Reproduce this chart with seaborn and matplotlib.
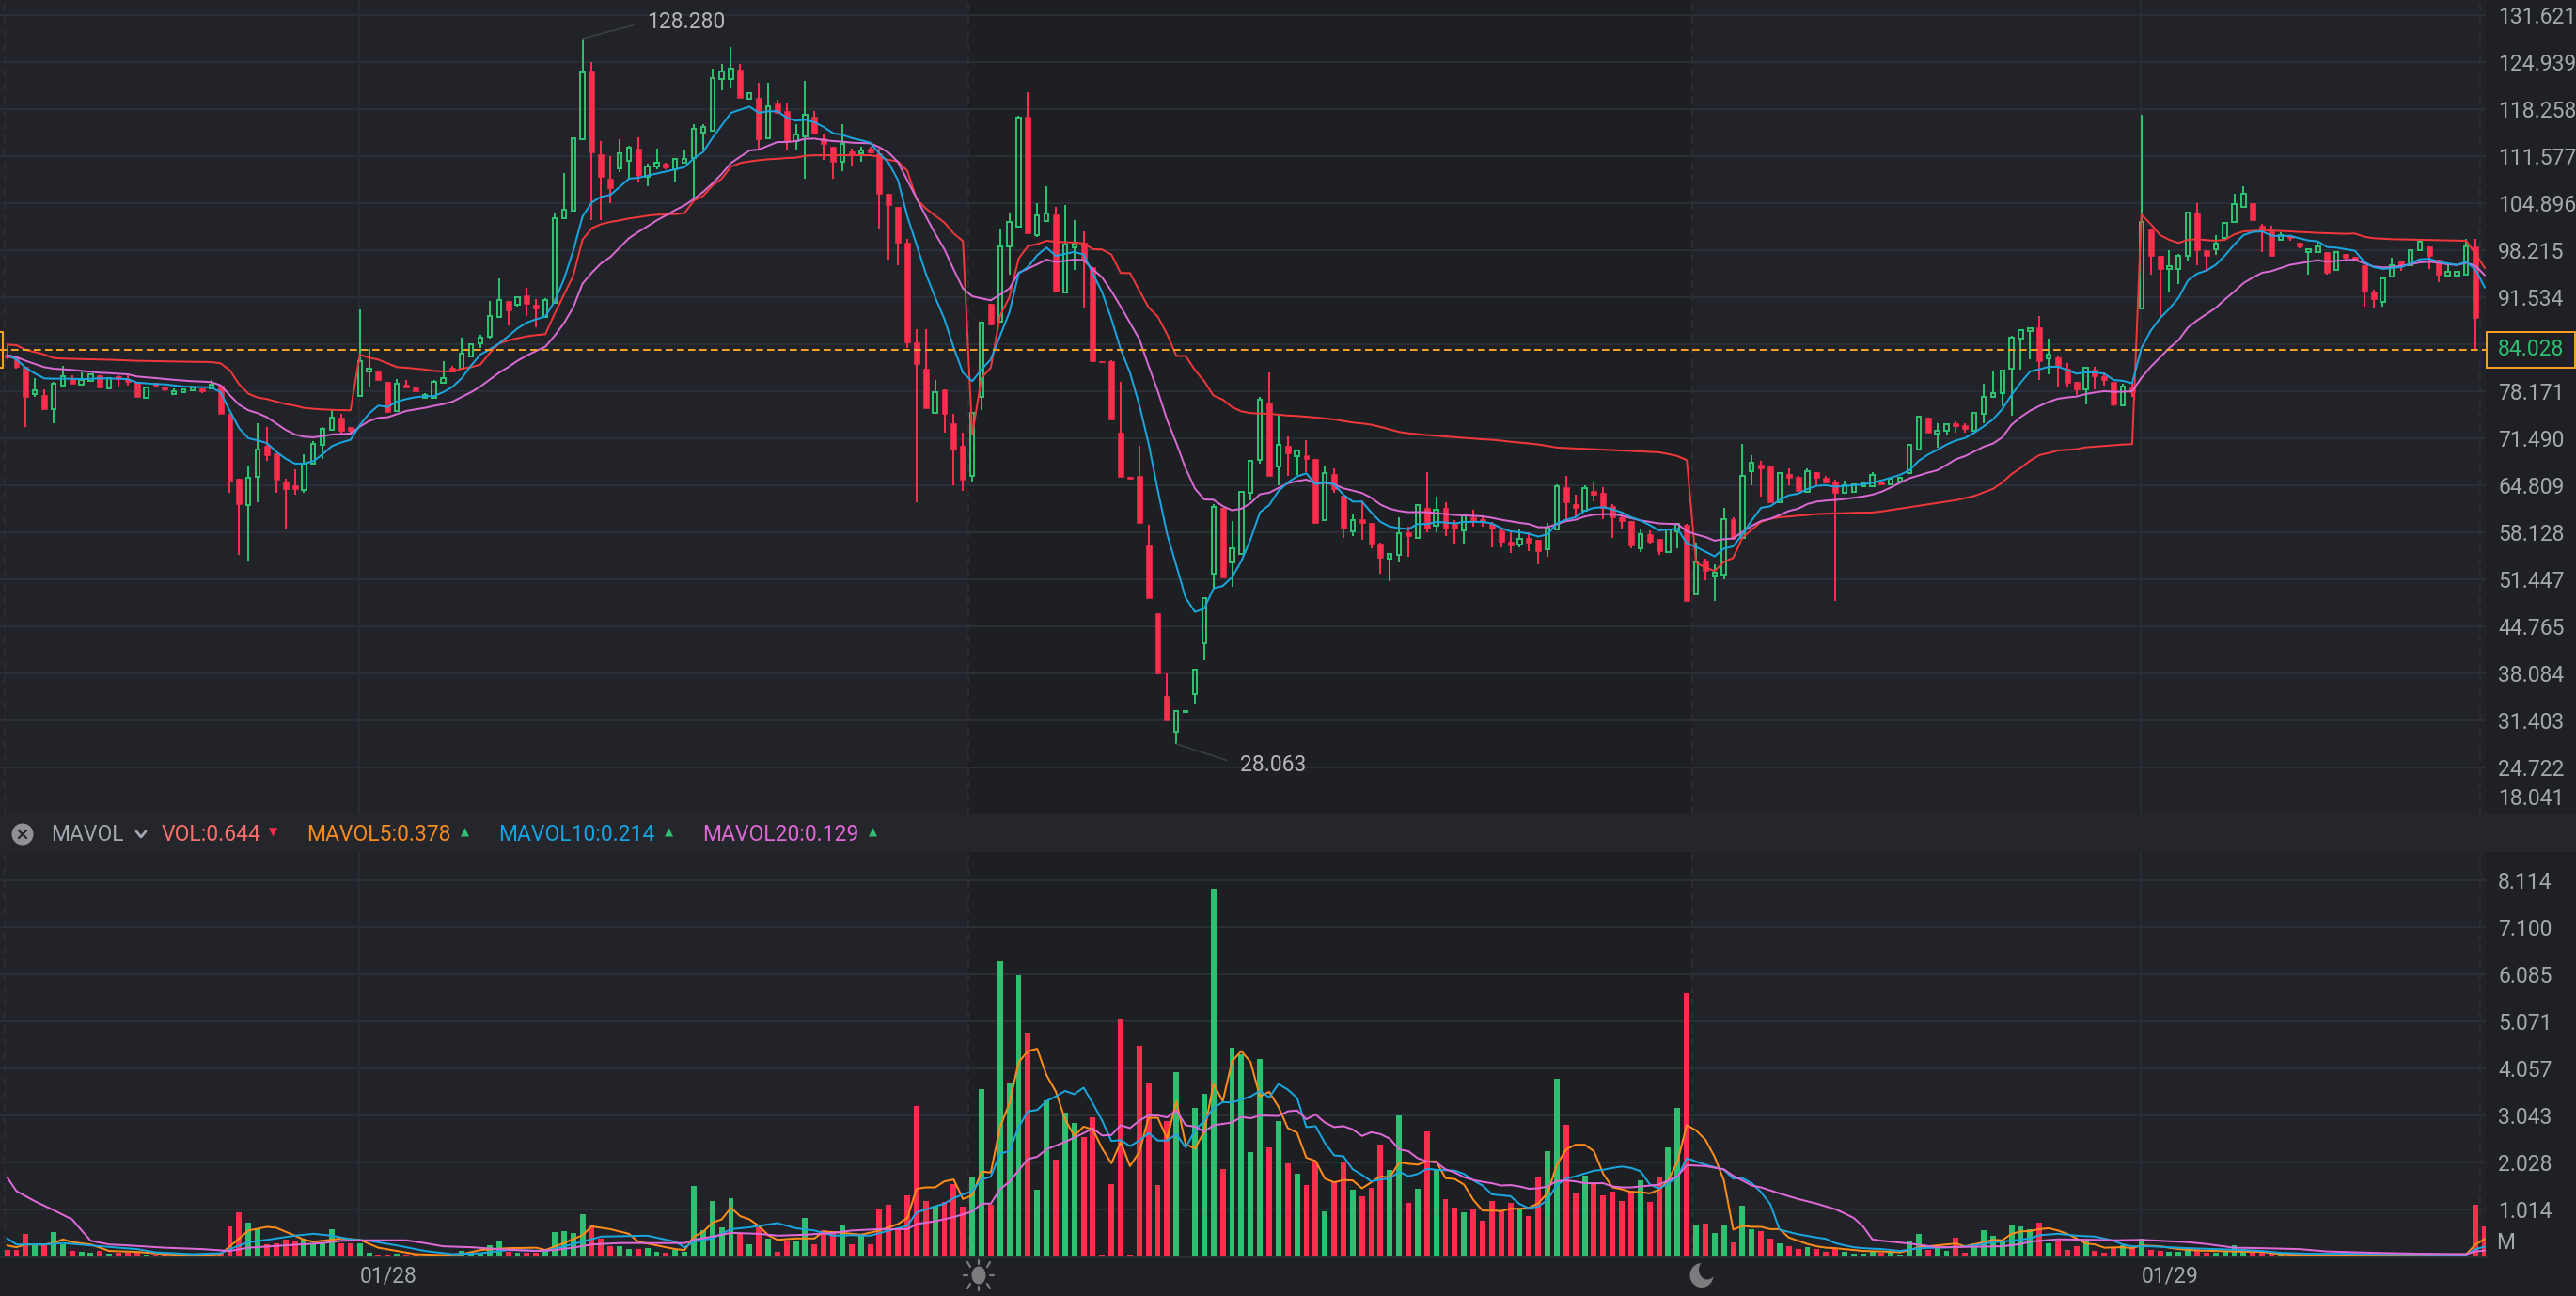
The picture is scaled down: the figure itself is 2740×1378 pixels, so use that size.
#candlestick chart with MA lines on top and MAVOL panel below
import pandas as pd
import matplotlib
matplotlib.use("Agg")
import matplotlib.pyplot as plt
from matplotlib.lines import Line2D
from matplotlib.patches import Ellipse, Rectangle
from matplotlib.transforms import IdentityTransform
import seaborn as sns

#candles, one value per bar
opens = [
    83.39,82.94,81.70,77.73,77.60,75.68,79.02,79.91,79.07,79.60,
    80.50,78.58,80.27,79.96,79.47,77.28,79.38,78.84,77.73,78.04,
    78.35,78.58,78.62,78.93,74.92,65.79,62.00,66.02,70.38,69.31,
    65.30,64.77,64.14,67.89,70.60,72.70,74.39,73.05,77.50,81.03,
    81.03,79.47,75.37,79.15,78.66,77.24,77.24,79.38,81.51,81.38,
    83.10,85.00,85.88,88.69,91.00,90.42,91.76,90.47,88.78,90.69,
    102.72,103.78,113.94,123.60,111.85,108.37,109.84,110.96,112.60,108.68,
    110.15,110.51,109.71,110.69,111.27,114.96,115.19,122.49,122.49,123.87,
    119.77,119.86,114.16,119.06,117.95,113.72,114.38,117.19,114.16,112.92,
    110.73,112.29,111.94,112.60,111.94,106.23,104.36,99.31,85.09,81.37,
    75.07,78.41,73.64,70.44,66.10,77.36,90.58,88.00,98.71,101.60,
    117.19,100.36,102.36,103.25,92.25,98.57,99.24,95.83,82.46,82.46,
    72.30,65.95,66.10,56.22,46.58,34.89,29.83,32.66,35.13,42.38,
    52.26,61.56,53.83,55.12,63.71,68.48,76.60,67.43,70.43,68.96,
    69.05,68.52,59.92,66.42,63.39,58.27,59.97,59.52,56.58,54.40,
    54.93,58.14,57.29,61.61,59.03,61.61,59.30,58.36,60.28,59.97,
    59.30,58.41,56.80,56.36,57.29,57.07,55.69,58.59,64.51,62.15,
    61.17,63.97,63.75,61.84,60.28,59.74,55.91,57.83,57.16,55.38,
    58.27,59.16,49.28,54.13,51.95,52.17,59.97,57.38,66.87,67.72,
    67.49,62.41,66.42,65.98,63.93,66.65,65.93,65.31,63.71,63.93,
    64.73,64.73,65.40,65.00,65.40,66.50,69.85,74.39,72.21,72.52,
    73.63,73.41,72.52,74.97,77.33,77.86,81.34,85.66,86.68,87.22,
    82.90,82.99,81.34,79.51,78.40,81.29,80.31,79.51,76.17,78.67,
    89.89,101.11,97.37,95.55,95.55,97.37,103.56,98.22,98.35,100.00,
    102.23,104.37,104.90,101.69,100.94,99.69,100.22,99.24,97.91,97.91,
    97.91,95.46,97.64,97.24,96.03,92.34,90.91,94.43,96.79,96.12,
    98.22,98.71,96.88,94.65,94.65,94.70,98.71,84.05,
]
closes = [
    82.94,81.60,77.40,78.26,75.68,79.29,80.36,79.24,79.73,80.58,
    78.71,80.04,79.96,79.47,77.37,78.71,78.93,78.40,78.17,78.49,
    78.66,78.22,79.07,74.97,65.35,62.14,65.93,69.94,69.04,65.57,
    64.23,64.23,67.89,70.69,72.87,74.48,72.52,72.52,82.50,81.38,
    79.78,75.28,79.29,78.71,78.17,77.68,79.55,80.04,80.94,83.52,
    84.90,85.75,88.91,91.09,89.67,91.58,90.56,89.93,91.09,102.80,
    103.92,114.07,123.43,112.16,108.68,107.00,111.94,112.74,108.90,110.07,
    110.60,109.93,111.18,111.13,115.41,115.68,122.62,123.65,123.96,119.86,
    120.49,114.03,118.62,117.73,113.72,114.60,117.50,114.83,113.27,110.82,
    113.27,111.71,112.38,112.16,106.28,104.67,99.33,85.09,81.99,75.78,
    78.03,75.02,69.91,65.67,75.07,87.86,87.71,98.80,102.27,117.06,
    100.67,103.12,103.38,92.34,99.02,99.11,96.88,82.46,82.30,74.21,
    65.95,65.80,59.51,48.82,38.13,31.45,32.74,32.80,38.66,48.82,
    61.71,51.78,55.84,63.85,68.29,76.98,66.14,70.53,69.41,69.72,
    68.60,59.52,66.51,64.28,58.63,59.83,59.48,56.58,54.49,55.07,
    57.96,57.60,62.06,58.72,61.39,58.72,58.72,60.50,59.74,59.61,
    58.72,56.80,56.27,57.16,56.71,55.47,58.72,64.64,62.41,61.61,
    64.37,63.53,61.61,60.28,59.74,56.27,57.92,56.85,55.51,58.59,
    59.39,48.34,54.04,52.71,52.35,60.05,57.25,66.16,68.07,67.27,
    62.41,66.51,65.93,64.06,66.82,65.93,65.27,63.75,64.87,64.95,
    65.18,66.29,65.00,65.80,65.90,70.50,74.52,72.30,72.61,73.54,
    73.19,72.83,75.06,77.42,77.95,81.12,85.79,86.86,87.13,82.45,
    83.34,81.78,79.33,78.49,81.52,80.31,79.78,76.31,78.84,78.09,
    102.27,97.46,95.59,95.90,97.46,103.61,98.26,97.46,99.11,102.05,
    104.72,106.28,102.54,101.16,97.46,100.36,99.91,98.80,98.35,98.80,
    95.01,98.00,97.15,96.93,92.34,91.31,94.25,96.12,95.90,98.26,
    99.38,97.46,94.79,95.10,95.10,98.80,88.64,84.03,
]
highs = [
    84.72,82.94,81.70,80.04,78.40,79.47,81.83,80.50,80.80,80.70,
    80.50,80.04,80.50,80.50,79.47,78.71,79.38,78.84,78.58,78.62,
    78.84,78.58,79.73,78.93,74.92,65.79,67.44,73.59,73.05,69.31,
    65.79,67.13,69.27,71.13,73.05,75.46,74.92,73.14,89.84,84.19,
    81.03,79.47,79.96,79.73,78.66,77.95,79.73,82.41,81.83,85.84,
    84.90,86.15,91.00,94.21,91.00,91.67,92.87,91.22,91.45,103.47,
    109.17,114.25,128.28,124.94,113.72,111.58,113.94,113.05,114.25,110.51,
    112.60,110.69,111.27,112.38,116.17,116.08,123.96,124.63,127.08,124.63,
    120.49,121.96,121.96,119.60,119.15,116.17,122.27,117.95,114.70,112.92,
    116.08,112.60,112.92,112.92,112.60,106.23,104.36,99.82,87.00,87.00,
    79.75,78.41,74.97,72.30,75.07,87.86,90.58,101.10,103.47,117.30,
    120.62,104.90,107.26,104.36,104.59,102.50,100.89,95.83,82.46,82.60,
    79.50,65.95,70.39,59.20,46.58,38.08,32.74,32.80,38.66,48.82,
    62.09,61.56,59.70,63.95,68.29,77.36,80.80,74.83,71.77,69.85,
    71.19,68.52,67.49,67.18,63.39,60.81,62.73,59.52,56.71,55.15,
    60.28,58.94,62.20,66.65,63.17,62.37,59.83,60.81,61.30,60.50,
    59.61,58.72,58.18,58.63,58.18,57.07,59.48,64.90,66.16,63.48,
    64.82,65.31,64.55,62.15,60.72,59.74,58.63,58.41,57.25,58.59,
    59.48,59.39,56.71,54.35,53.60,61.61,60.28,70.65,69.05,68.30,
    67.49,66.51,67.18,66.16,67.18,66.65,66.16,65.62,65.53,65.00,
    65.31,66.65,65.40,65.80,65.90,70.60,74.52,74.39,73.63,73.68,
    73.86,73.63,75.06,79.20,81.12,81.12,86.00,87.00,87.30,88.87,
    85.66,83.21,82.18,79.51,81.70,81.65,80.85,79.51,79.20,79.20,
    117.42,101.11,97.37,98.22,97.64,103.61,104.90,98.22,100.36,102.05,
    106.24,107.26,104.90,101.92,101.69,100.71,100.22,99.24,98.50,99.24,
    97.91,98.00,97.64,97.24,96.03,92.56,94.25,97.15,96.79,98.26,
    99.69,98.71,96.88,96.21,95.10,99.78,99.82,84.05,
]
lows = [
    82.72,81.40,73.05,77.37,75.46,73.59,78.71,79.24,78.93,79.47,
    78.71,78.58,78.71,78.93,77.37,77.28,78.71,78.13,77.60,77.90,
    78.17,77.90,78.49,74.97,63.74,54.88,54.12,62.36,68.24,63.70,
    58.62,63.43,63.70,67.89,68.55,72.70,72.07,72.07,77.50,78.71,
    79.78,75.28,75.37,78.71,78.17,77.06,77.15,79.38,80.94,81.38,
    83.10,84.28,85.66,88.69,87.57,90.24,88.91,87.30,88.69,90.69,
    102.72,103.78,113.94,102.50,102.50,104.90,109.26,108.37,107.84,107.35,
    109.71,109.71,107.84,110.60,105.70,112.38,115.19,120.98,121.20,119.86,
    119.77,112.60,114.16,117.73,112.38,112.38,108.37,114.83,111.04,108.37,
    109.49,110.29,110.82,111.94,101.25,96.92,96.12,84.37,62.42,75.78,
    75.07,72.30,64.81,64.00,65.38,75.55,87.57,88.00,94.79,101.60,
    100.67,100.13,102.36,92.34,92.25,95.37,89.98,82.46,82.30,74.21,
    65.95,65.80,59.51,48.82,38.13,31.45,28.063,32.66,33.65,40.00,
    50.25,51.78,50.40,55.12,62.66,67.82,66.14,64.81,66.16,66.29,
    66.74,59.52,59.92,63.75,57.38,57.60,57.07,55.82,52.26,51.24,
    53.91,54.71,57.29,58.18,58.18,57.60,56.58,56.58,58.94,58.94,
    56.05,56.05,55.24,56.05,55.51,53.60,54.71,58.59,59.92,60.28,
    61.17,62.50,60.05,57.38,58.72,55.91,55.29,56.49,54.93,55.24,
    55.82,48.34,49.28,51.28,48.34,51.50,57.25,57.38,64.87,63.26,
    62.41,62.41,64.87,64.06,63.93,64.73,65.04,48.34,63.71,63.70,
    64.60,64.50,65.00,65.00,65.40,66.50,69.85,72.30,70.16,71.85,
    72.30,72.30,72.52,73.63,77.33,76.08,74.75,81.23,82.76,79.78,
    80.63,78.75,78.75,77.64,76.31,78.44,78.98,76.08,76.08,77.42,
    89.89,94.79,88.91,92.34,93.45,96.66,96.13,95.46,97.60,100.00,
    102.23,104.37,102.54,98.00,97.46,99.60,99.60,98.49,94.79,97.91,
    94.79,95.46,96.79,96.93,90.24,89.98,90.24,94.43,95.32,96.12,
    98.22,95.59,93.67,94.65,94.65,94.70,83.88,84.03,
]
volumes = [
    .135,.135,.49,.24,.24,.53,.27,.12,.11,.09,
    .12,.07,.09,.09,.09,.05,.04,.04,.03,.03,
    .03,.03,.05,.07,.64,.96,.72,.59,.26,.29,
    .37,.32,.39,.29,.30,.58,.29,.28,.29,.09,
    .05,.05,.07,.05,.04,.03,.03,.03,.03,.12,
    .07,.09,.24,.34,.11,.09,.09,.09,.12,.52,
    .55,.51,.91,.68,.38,.22,.22,.17,.16,.19,
    .11,.09,.14,.11,1.53,.56,1.20,.63,1.26,.51,
    .27,.63,.38,.11,.34,.35,.84,.27,.56,.54,
    .68,.27,.45,.27,1.01,1.12,.56,1.32,3.24,1.20,
    1.10,1.17,1.56,1.07,1.72,3.60,1.12,6.36,3.75,6.07,
    4.82,1.44,3.37,2.08,3.10,2.88,2.57,3.01,.04,1.56,
    5.14,.04,4.54,3.74,1.55,2.92,3.98,0,3.21,3.50,
    7.93,1.89,4.50,4.35,2.25,4.25,2.35,2.92,2.01,1.78,
    1.54,2.03,.98,1.61,2.03,1.43,1.30,1.49,2.41,1.86,
    3.04,1.15,1.46,2.70,1.86,1.24,1.05,.95,1.01,.78,
    1.20,.99,1.16,1.02,.87,1.70,2.28,3.83,2.83,1.35,
    1.74,1.58,1.32,1.40,1.19,1.41,1.64,1.18,1.72,2.35,
    3.20,5.68,.68,.71,.51,.68,.30,1.10,.59,.55,
    .39,.28,.22,.17,.21,.17,.11,.19,.10,.07,
    .07,.10,.09,.09,.04,.35,.49,.14,.20,.12,
    .40,.08,.29,.56,.44,.32,.66,.65,.58,.73,
    .28,.34,.14,.22,.36,.12,.09,.18,.24,.19,
    .38,.14,.12,.11,.10,.19,.16,.08,.08,.12,
    .24,.16,.10,.11,.11,.04,.04,.05,.03,.03,
    .03,.02,.03,.02,.03,.02,.03,.02,.02,.02,
    .03,.03,.03,.03,.03,.03,1.12,.65,
]

#moving averages on the price panel
ma_blue = [
    83.3,82.7,81.5,80.7,80.0,79.96,79.95,79.95,79.9,79.95,
    80.0,80.0,79.95,79.9,79.4,79.3,79.2,79.15,79.0,78.84,
    78.8,78.75,78.71,78.04,75.37,72.92,71.49,71.2,70.8,69.58,
    68.6,67.89,67.89,68.24,69.22,70.38,70.9,71.27,73.36,75.01,
    76.13,75.95,76.7,77.06,77.33,77.45,77.5,78.04,78.8,80.04,
    81.83,83.39,84.1,84.95,86.0,87.1,87.93,88.4,88.8,90.96,
    94.1,98.1,103.0,105.0,105.8,106.06,107.2,108.37,108.5,108.8,
    109.1,109.4,109.7,110.02,111.27,112.16,114.16,115.94,117.73,118.17,
    118.62,117.73,117.95,117.95,117.06,116.61,116.75,116.39,115.72,114.83,
    114.6,114.16,113.85,113.49,111.94,110.6,108.15,103.03,99.0,94.87,
    91.53,88.43,84.37,80.8,79.6,81.27,82.7,86.04,89.38,94.87,
    95.83,97.5,98.6,97.4,97.7,97.97,97.6,94.87,92.25,88.43,
    84.13,80.8,76.26,70.77,64.09,57.89,53.36,48.82,46.82,47.29,
    50.16,50.5,51.75,54.03,57.16,60.97,62.0,64.0,65.2,66.07,
    66.51,64.95,65.27,64.95,63.48,62.5,62.5,60.95,59.61,58.94,
    58.72,58.58,59.3,59.3,59.61,59.52,59.39,59.61,59.61,59.61,
    59.39,58.72,58.27,58.14,57.92,57.52,57.83,59.39,59.92,60.28,
    61.17,61.61,61.7,61.39,60.95,60.28,59.83,59.16,58.41,58.5,
    58.63,56.58,56.05,55.38,54.71,55.82,56.13,57.83,59.83,61.61,
    61.84,62.73,63.39,63.62,64.28,64.73,64.82,64.6,64.73,64.82,
    64.95,65.18,65.5,65.9,66.3,66.95,68.29,69.18,69.85,70.6,
    71.18,71.54,72.3,73.19,74.17,75.64,77.64,79.42,80.98,81.29,
    81.65,81.65,81.2,80.67,80.85,80.85,80.67,79.78,79.65,79.33,
    84.32,86.77,88.55,89.89,91.45,93.9,94.88,95.32,96.13,97.46,
    99.02,100.36,100.8,100.89,100.27,100.22,100.27,99.91,99.6,99.47,
    98.66,98.58,98.35,98.13,96.57,95.81,95.55,95.68,95.81,96.35,
    96.92,97.0,96.57,96.35,96.12,96.57,95.46,92.9,
]
ma_pink = [
    83.3,83.03,82.5,82.05,81.6,81.38,81.29,81.2,81.07,80.94,
    80.8,80.75,80.65,80.58,80.27,80.15,80.05,79.91,79.8,79.69,
    79.6,79.55,79.47,79.02,77.6,76.26,75.46,75.06,74.48,73.59,
    72.7,72.03,71.72,71.63,71.8,72.03,72.1,72.16,73.14,73.94,
    74.39,74.48,74.92,75.37,75.6,75.81,76.1,76.35,76.7,77.37,
    78.04,78.84,79.82,80.8,81.6,82.5,83.25,83.9,84.5,86.06,
    87.84,90.07,93.45,95.01,96.35,97.24,98.57,99.91,100.8,101.6,
    102.45,103.16,103.92,104.59,105.48,106.5,107.7,109.04,110.6,111.49,
    112.38,112.51,113.05,113.58,113.58,113.72,114.03,114.07,113.85,113.72,
    113.63,113.49,113.45,113.4,112.83,112.07,110.73,108.15,105.61,103.03,
    100.58,98.35,95.46,92.78,91.67,91.36,91.09,91.89,92.78,95.01,
    95.59,96.21,96.88,96.53,96.7,96.88,96.8,95.5,94.35,92.4,
    90.2,87.9,85.6,81.8,78.17,74.11,70.77,67.2,64.33,62.8,
    62.76,61.84,61.26,61.48,62.28,63.53,63.75,64.42,65.09,65.4,
    65.62,65.09,65.18,64.95,64.37,64.06,63.71,63.04,62.06,61.48,
    61.17,60.99,61.0,60.99,60.85,60.72,60.6,60.54,60.48,60.41,
    60.19,59.92,59.7,59.48,59.3,58.85,58.85,59.3,59.7,59.92,
    60.37,60.63,60.7,60.72,60.5,60.14,59.83,59.61,59.39,59.35,
    59.3,58.27,57.83,57.47,56.94,57.16,57.25,58.18,59.03,59.74,
    60.05,60.59,61.17,61.48,62.15,62.5,62.64,62.73,62.86,63.04,
    63.22,63.48,63.9,64.5,65.2,65.8,66.2,66.6,66.95,67.7,
    68.51,68.96,69.62,70.29,70.74,71.63,73.41,74.52,75.41,76.08,
    76.66,77.11,77.29,77.42,77.78,78.0,78.18,78.09,78.09,78.18,
    80.09,81.65,82.99,84.32,85.44,87.22,88.24,89.13,90.02,91.23,
    92.34,93.54,94.34,95.01,95.24,95.68,96.13,96.35,96.57,96.79,
    96.57,96.7,96.79,96.88,96.35,95.9,95.77,95.8,95.99,96.21,
    96.48,96.57,96.43,96.21,96.12,96.43,95.99,94.65,
]
ma_red = [
    84.81,84.72,84.05,83.74,83.39,82.9,82.81,82.78,82.75,82.72,
    82.68,82.65,82.6,82.55,82.5,82.48,82.45,82.42,82.4,82.38,
    82.35,82.33,82.32,82.14,81.16,79.15,77.82,77.28,77.06,76.7,
    76.35,76.13,75.81,75.68,75.59,75.53,75.5,75.46,83.39,82.94,
    82.67,82.14,81.6,81.51,81.38,81.26,81.07,80.98,80.98,81.38,
    81.6,81.96,83.61,84.95,85.39,85.7,85.97,86.15,86.28,89.2,
    91.89,94.57,99.69,101.34,101.91,102.23,102.45,102.72,102.9,103.12,
    103.25,103.3,103.34,103.47,105.26,105.92,107.39,108.37,110.07,110.6,
    110.82,111.0,111.13,111.2,111.3,111.36,111.62,111.7,111.71,111.71,
    111.71,111.71,111.71,111.71,111.49,111.04,110.82,109.49,105.48,104.14,
    103.12,102.14,100.58,99.5,71.97,80.08,81.51,88.91,91.53,97.02,
    98.79,99.07,99.55,99.41,99.35,99.31,99.17,98.36,98.31,97.59,
    94.97,94.97,92.49,90.1,88.76,86.28,83.18,83.18,81.18,79.6,
    77.55,76.98,75.93,75.31,75.07,75.0,74.97,74.85,74.72,74.66,
    74.55,74.44,74.3,74.17,73.95,73.73,73.6,73.42,73.1,72.75,
    72.39,72.2,72.08,71.95,71.86,71.75,71.65,71.55,71.45,71.35,
    71.28,71.15,71.0,70.88,70.75,70.61,70.4,70.17,70.1,70.05,
    69.99,69.93,69.88,69.82,69.76,69.7,69.63,69.57,69.5,69.25,
    68.96,68.38,53.82,53.15,52.62,53.95,54.49,57.38,58.5,59.61,
    60.05,60.28,60.37,60.5,60.6,60.72,60.77,60.82,60.85,60.9,
    60.93,60.95,61.1,61.3,61.5,61.7,61.9,62.1,62.3,62.5,
    62.7,63.0,63.3,63.8,64.3,65.2,66.4,67.3,68.3,69.1,
    69.4,69.76,69.85,69.94,70.2,70.3,70.4,70.5,70.6,70.65,
    103.25,101.92,100.36,99.69,99.24,99.69,99.78,99.65,99.56,99.69,
    100.45,100.89,100.95,101.02,101.0,100.95,100.89,100.8,100.75,100.67,
    100.62,100.58,100.54,100.58,100.13,99.91,99.85,99.78,99.75,99.72,
    99.69,99.66,99.63,99.6,99.58,99.55,97.68,95.68,
]

#volume averages, read at the bars listed in the idx lists
mavol5_idx = [
    0,1,2,4,5,6,7,9,11,14,17,20,23,24,25,26,28,29,31,32,33,35,36,38,40,42,44,47,49,51,54,57,58,60,62,63,
    65,67,68,70,72,73,74,75,76,77,78,79,80,81,82,83,85,87,88,90,92,94,96,97,98,99,100,101,102,103,104,105,
    106,107,108,109,110,111,112,113,114,115,116,117,118,119,120,121,122,123,124,125,126,127,128,129,130,131,
    132,133,134,135,136,137,138,139,140,141,142,143,144,145,146,147,148,149,150,151,152,153,154,155,156,157,
    158,159,160,161,162,163,164,165,166,167,168,169,170,171,172,173,174,175,176,177,178,179,180,181,182,183,
    184,185,186,187,188,189,190,191,192,193,194,195,196,197,198,199,200,202,204,205,206,208,210,211,213,214,
    215,216,217,218,219,220,221,222,223,224,225,226,228,229,230,232,234,236,240,243,245,248,255,262,265,266,267,
]
mavol5 = [
    .24,.20,.26,.26,.29,.37,.31,.26,.12,.10,.05,.02,.05,.22,.39,.56,.64,.62,.45,.36,.32,.36,.39,.36,.19,.12,.05,.03,.05,.14,.18,.19,.14,.29,.46,.65,
    .59,.49,.32,.24,.16,.14,.43,.53,.73,.80,1.05,.87,.80,.66,.46,.36,.39,.39,.54,.51,.47,.56,.70,.83,1.46,1.49,1.49,1.62,1.66,1.24,1.32,1.83,
    1.81,2.79,3.30,4.19,4.43,4.48,3.91,3.56,2.96,2.60,2.80,2.74,2.33,2.01,2.47,1.95,2.25,2.99,2.99,2.54,3.35,2.42,2.33,2.69,3.72,3.35,
    4.21,4.43,4.19,3.45,3.55,3.23,2.77,2.67,2.13,2.06,1.68,1.60,1.65,1.64,1.47,1.60,1.73,1.70,2.03,2.00,1.98,2.05,2.05,1.69,1.67,1.55,
    1.22,.99,.99,.98,1.03,1.03,1.05,1.15,1.37,1.98,2.31,2.41,2.41,2.27,1.78,1.49,1.45,1.39,1.39,1.36,1.44,1.64,2.05,2.83,2.72,2.52,
    2.15,1.64,.58,.66,.64,.64,.59,.59,.41,.34,.27,.22,.19,.18,.16,.14,.12,.11,.09,.14,.20,.24,.28,.22,.31,.36,
    .35,.49,.54,.55,.59,.61,.56,.49,.39,.28,.26,.19,.20,.18,.24,.22,.16,.13,.11,.10,.05,.03,.03,.03,.05,.26,.378,
]
mavol10_idx = [
    0,1,4,6,9,12,14,16,20,23,24,26,28,31,33,35,37,39,42,45,48,51,54,58,60,62,64,69,72,73,74,76,78,80,83,85,87,89,91,93,95,
    97,98,100,101,102,103,104,105,106,107,108,109,110,111,112,113,114,115,116,117,118,119,120,121,122,123,124,125,126,127,128,129,
    130,131,132,134,135,136,137,138,139,140,141,142,143,144,145,146,147,148,149,150,151,152,153,154,155,156,157,158,159,160,161,162,
    163,164,165,166,167,168,169,170,171,172,173,174,175,176,177,178,179,180,181,182,183,185,186,187,188,189,190,191,193,195,196,197,
    198,199,200,201,202,204,206,208,210,212,214,216,218,219,221,223,225,227,228,229,231,233,235,238,241,243,245,248,252,258,265,266,267,
]
mavol10 = [
    .39,.26,.26,.29,.24,.19,.16,.09,.05,.07,.16,.31,.36,.45,.49,.45,.37,.34,.24,.12,.05,.07,.14,.12,.22,.32,.43,.45,.32,.20,.32,.39,.59,.63,.72,.61,.56,.45,.46,.45,.56,
    .66,.95,1.08,1.14,1.26,1.34,1.41,1.66,1.72,2.22,2.27,2.79,3.13,3.16,3.35,3.45,3.57,3.50,3.64,3.30,2.93,2.49,2.51,2.38,2.50,2.66,2.50,2.50,2.64,2.35,2.72,2.93,
    3.20,3.33,3.32,3.45,3.57,3.43,3.72,3.60,3.42,2.79,2.81,2.45,2.18,2.16,1.88,1.76,1.62,1.66,1.68,1.83,1.73,1.78,1.89,1.87,1.86,1.85,1.78,1.64,1.53,1.34,1.32,1.30,
    1.13,1.04,1.08,1.22,1.54,1.68,1.73,1.79,1.85,1.87,1.91,1.94,1.91,1.84,1.56,1.46,1.58,1.71,2.12,2.05,1.98,1.87,1.68,1.69,1.58,1.39,1.13,.58,.48,.41,.38,.29,
    .24,.20,.18,.17,.16,.12,.18,.19,.20,.24,.31,.34,.39,.46,.49,.45,.43,.34,.26,.22,.22,.20,.18,.16,.14,.12,.08,.06,.06,.05,.04,.16,.214,
]
mavol20_idx = [
    0,1,3,5,7,9,11,13,17,21,24,26,30,34,36,39,43,45,47,50,53,57,59,61,63,66,73,74,76,78,81,83,86,89,91,94,
    97,98,100,102,104,105,106,107,108,110,111,112,114,116,117,118,119,120,121,122,123,124,125,126,127,128,129,130,132,133,134,135,137,138,139,140,141,142,143,144,145,146,147,148,149,
    150,151,152,153,154,155,156,157,158,159,160,161,162,163,164,165,166,167,168,169,170,172,173,174,175,176,178,179,180,181,183,185,186,187,188,189,191,193,195,197,198,199,200,201,202,
    205,208,212,215,217,218,219,221,225,227,230,232,235,237,240,243,247,250,255,260,265,266,267,
]
mavol20 = [
    1.71,1.41,1.19,1.00,.80,.34,.26,.24,.19,.16,.12,.19,.24,.29,.34,.35,.35,.29,.22,.20,.16,.12,.14,.19,.26,.29,.29,.36,.43,.51,.49,.45,.47,.51,.56,.59,
    .59,.70,.76,.85,.97,1.14,1.14,1.45,1.61,2.10,2.15,2.31,2.47,2.66,2.76,2.61,2.62,2.83,2.77,2.93,3.04,3.04,3.00,3.15,2.83,2.80,2.69,2.83,2.89,3.01,2.98,3.04,3.03,3.13,3.15,2.96,3.06,2.89,2.79,2.81,2.74,2.60,2.68,2.64,2.54,
    2.31,2.27,2.12,2.05,2.03,1.88,1.81,1.71,1.65,1.61,1.58,1.53,1.54,1.51,1.46,1.47,1.51,1.63,1.64,1.62,1.58,1.58,1.51,1.49,1.49,1.51,1.55,1.64,1.73,1.97,1.95,1.88,1.74,1.64,1.53,1.49,1.36,1.24,1.14,1.02,.93,.83,.65,.37,.34,
    .28,.20,.21,.22,.27,.32,.34,.37,.36,.35,.36,.34,.31,.27,.19,.18,.16,.11,.08,.06,.05,.11,.129,
]

price_ticks = [131.621, 124.939, 118.258, 111.577, 104.896, 98.215, 91.534, 84.853,
               78.171, 71.490, 64.809, 58.128, 51.447, 44.765, 38.084, 31.403, 24.722]
price_labels = ["131.621", "124.939", "118.258", "111.577", "104.896", "98.215", "91.534", "",
                "78.171", "71.490", "64.809", "58.128", "51.447", "44.765", "38.084", "31.403", "24.722"]
vol_ticks = [8.114, 7.100, 6.085, 5.071, 4.057, 3.043, 2.028, 1.014]
date_ticks = [38, 230]
date_labels = ["01/28", "01/29"]
last_price = 84.028
high_bar, low_bar = 62, 126

BG = "#212328"
BG_DARK = "#1d1f23"
STRIP = "#1e2024"
HEADER = "#24262b"
GRID = "#2b2e36"
TEXT = "#a4a7ad"
GREEN = "#2fbf71"
RED = "#ff2d4d"
ORANGE = "#f5a025"
LW = 1.44  # 2 px at dpi 100

W, H = 2740, 1378
sns.set_theme(style="dark", rc={
    "figure.facecolor": STRIP,
    "axes.facecolor": BG,
    "axes.edgecolor": BG,
    "axes.grid": True,
    "grid.color": GRID,
    "grid.linewidth": LW,
    "text.color": TEXT,
    "xtick.color": TEXT,
    "ytick.color": TEXT,
})
plt.rcParams["font.family"] = ["Roboto", "DejaVu Sans"]
FS = 16.5

fig = plt.figure(figsize=(W / 100, H / 100), dpi=100)
ax = fig.add_axes([0, (H - 866) / H, 2644 / W, 866 / H])
ax_vol = fig.add_axes([0, (H - 1336) / H, 2644 / W, 430 / H])

n = len(closes)
idx = list(range(n))
up = [c >= o for o, c in zip(opens, closes)]

#wicks
up_i = [i for i in idx if up[i]]
down_i = [i for i in idx if not up[i]]
ax.vlines(down_i, [lows[i] for i in down_i], [highs[i] for i in down_i], color=RED, lw=LW, zorder=3)
ax.vlines(up_i, [closes[i] for i in up_i], [highs[i] for i in up_i], color=GREEN, lw=LW, zorder=3)
ax.vlines(up_i, [lows[i] for i in up_i], [opens[i] for i in up_i], color=GREEN, lw=LW, zorder=3)

#bodies, red filled and green hollow
ax.bar(down_i, [opens[i] - closes[i] for i in down_i], bottom=[closes[i] for i in down_i],
       width=0.6, color=RED, edgecolor=RED, linewidth=0.4, zorder=3)
ax.bar(up_i, [closes[i] - opens[i] for i in up_i], bottom=[opens[i] for i in up_i],
       width=0.44, facecolor="none", edgecolor=GREEN, linewidth=LW, zorder=3)

#moving averages
ma_x = list(range(len(ma_red)))
sns.lineplot(x=ma_x, y=ma_red, color="#f0383c", linewidth=LW, ax=ax, zorder=4)
sns.lineplot(x=ma_x, y=ma_pink, color="#d96ad2", linewidth=LW, ax=ax, zorder=4)
sns.lineplot(x=ma_x, y=ma_blue, color="#1aa5de", linewidth=LW, ax=ax, zorder=4)

ax.axhline(last_price, color=ORANGE, lw=LW, dashes=(3.8, 2.2), zorder=5)

#volume panel
df_vol = pd.DataFrame({"idx": idx, "vol": volumes, "side": ["up" if u else "down" for u in up]})
sns.barplot(data=df_vol, x="idx", y="vol", hue="side", palette={"up": GREEN, "down": RED},
            dodge=False, native_scale=True, width=0.6, saturation=1, linewidth=0,
            errorbar=None, legend=False, ax=ax_vol, zorder=3)
sns.lineplot(x=mavol5_idx, y=mavol5, color="#ff8c1a", linewidth=LW, ax=ax_vol, zorder=4)
sns.lineplot(x=mavol10_idx, y=mavol10, color="#1aa5de", linewidth=LW, ax=ax_vol, zorder=4)
sns.lineplot(x=mavol20_idx, y=mavol20, color="#df69d6", linewidth=LW, ax=ax_vol, zorder=5)
ax_vol.axhline(0, color=GRID, lw=LW * 1.4, clip_on=False, zorder=2)

for a in (ax, ax_vol):
    a.set_xlim(-0.77, 267.1)
    a.set_xlabel("")
    a.set_ylabel("")
    a.set_axisbelow(True)
    for s in a.spines.values():
        s.set_visible(False)
    a.axvspan(103.6, 181.6, color=BG_DARK, lw=0, zorder=0)
    for x in (-0.26, 103.6, 181.6, 266.5):
        a.axvline(x, color="#2b2d33", lw=LW, dashes=(4, 3), zorder=1)
    for x in date_ticks:
        a.axvline(x - 0.1, color="#2a2c33", lw=LW, zorder=1)
    a.grid(axis="x", visible=False)
    a.grid(axis="y", visible=True, zorder=1)
    a.tick_params(axis="y", length=0, right=False, left=False, labelleft=False,
                  labelright=True, pad=9.4, labelsize=FS, labelcolor=TEXT)

ax.set_ylim(18.04, 133.76)
ax.set_yticks(price_ticks)
ax.set_yticklabels(price_labels)
ax.set_xticks([])

ax_vol.set_ylim(0, 8.72)
ax_vol.set_yticks(vol_ticks)
ax_vol.set_yticklabels([f"{v:.3f}" for v in vol_ticks])
ax_vol.set_xticks(date_ticks)
ax_vol.set_xticklabels(date_labels, ha="left")
ax_vol.tick_params(axis="x", length=0, pad=7, labelsize=FS, labelcolor=TEXT)


def px(x, y):
    #pixel position from the top left corner
    return x, H - y


def ftext(x, y, s, color=TEXT, size=FS, **kw):
    fig.text(x / W, (H - y) / H, s, color=color, fontsize=size, va="center", **kw)


#labels that sit off their ticks
ftext(2657, 849, "18.041")
ftext(2655, 1322, "M")

#high and low callouts
ax.annotate("128.280", xy=(high_bar, highs[high_bar]), xytext=(688, H - 23), textcoords="figure pixels",
            va="center", color="#b4b6ba", fontsize=FS,
            arrowprops=dict(arrowstyle="-", color="#3b3e45", lw=LW * 0.8, shrinkA=8, shrinkB=0, relpos=(0, 0.5)))
ax.annotate("28.063", xy=(low_bar, lows[low_bar]), xytext=(1319, H - 813), textcoords="figure pixels",
            va="center", color="#b4b6ba", fontsize=FS,
            arrowprops=dict(arrowstyle="-", color="#3b3e45", lw=LW * 0.8, shrinkA=8, shrinkB=0, relpos=(0, 0.5)))

#last price box, plus the sliver of it at the left edge
identity = IdentityTransform()
for x0, x1 in ((2645, 2739), (-90, 3)):
    fig.add_artist(Rectangle(px(x0, 391), x1 - x0, 38, transform=identity, facecolor="none",
                             edgecolor=ORANGE, lw=LW, zorder=6))
ftext(2657, 372, "84.028", color=GREEN)

#header strip of the volume panel
fig.add_artist(Rectangle(px(0, 906), 2740, 41, transform=identity, facecolor=HEADER, lw=0, zorder=1))
fig.add_artist(Ellipse(px(24, 887), 23, 23, transform=identity, facecolor="#8f9196", lw=0, zorder=2))
for dx in (-1, 1):
    fig.add_artist(Line2D([20, 28], [H - 887 - 4 * dx, H - 887 + 4 * dx], transform=identity,
                          color=HEADER, lw=1.6, zorder=3))
ftext(54, 887, "MAVOL", zorder=3)
fig.add_artist(Line2D([145, 150, 155], [H - 884, H - 890, H - 884], transform=identity, color=TEXT, lw=2, zorder=3))
legend_items = [
    (172, "VOL:0.644", "#f8706c", 290, "▼", RED),
    (326.5, "MAVOL5:0.378", "#f68b1f", 494, "▲", GREEN),
    (530, "MAVOL10:0.214", "#16a3e0", 711, "▲", GREEN),
    (747, "MAVOL20:0.129", "#e067d5", 928, "▲", GREEN),
]
for x, label, col, x_tri, tri, col_tri in legend_items:
    ftext(x, 887, label, color=col, zorder=3)
    ftext(x_tri, 885, tri, color=col_tri, size=8.5, ha="center", family="DejaVu Sans", zorder=3)

#sun and moon markers on the time axis
SYM = "#7b7c7e"
sx, sy = px(1041, 1356)
fig.add_artist(Ellipse((sx, sy), 15, 19, transform=identity, facecolor=SYM, lw=0, zorder=3))
for dx, dy, ex, ey in ((0, 12, 0, 16), (0, -12, 0, -16), (12, 0, 16, 0), (-12, 0, -16, 0),
                       (9, 9, 12, 14), (-9, 9, -12, 14), (9, -9, 12, -14), (-9, -9, -12, -14)):
    fig.add_artist(Line2D([sx + dx, sx + ex], [sy + dy, sy + ey], transform=identity, color=SYM, lw=1.6, zorder=3))
mx, my = px(1810, 1356)
fig.add_artist(Ellipse((mx, my), 25, 26, transform=identity, facecolor=SYM, lw=0, zorder=3))
fig.add_artist(Ellipse((mx + 6, my + 6), 18, 21, transform=identity, facecolor=STRIP, lw=0, zorder=4))

fig.savefig("out.png", dpi=100, facecolor=STRIP)
